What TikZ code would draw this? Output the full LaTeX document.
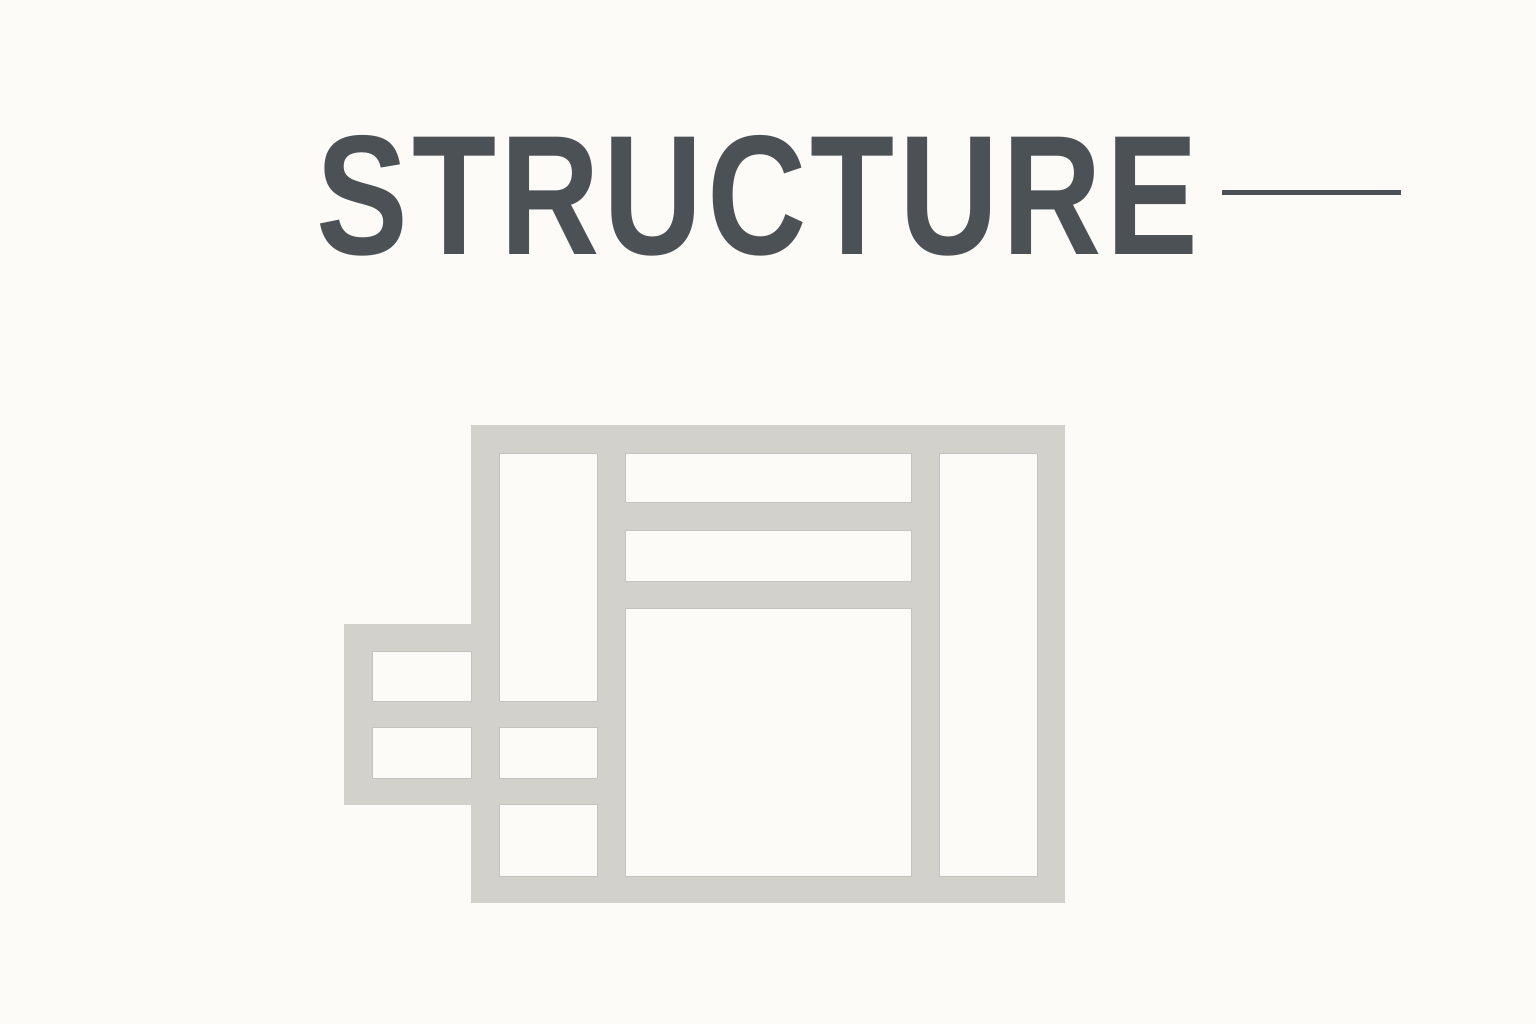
\documentclass[tikz,border=0pt]{standalone}
\usepackage{fontspec}
\newfontfamily\titlefont[LetterSpace=3]{Liberation Sans Bold}
\usepackage{graphicx}
\definecolor{bgc}{HTML}{FCFBF8}
\definecolor{framec}{HTML}{D2D1CC}
\definecolor{inkc}{HTML}{4C5155}
\tikzset{
  hole/.style={fill=bgc, draw=framec!93!black, line width=0.3pt},
  titletext/.style={inner sep=0pt, anchor=base west, text=inkc},
}
\begin{document}
\begin{tikzpicture}[x=1pt,y=-1pt]
\fill[bgc] (0,0) rectangle (1536,1024);
\useasboundingbox (0,0) rectangle (1536,1024);
% title
\node[titletext] (title) at (316,255) {\resizebox{882pt}{119pt}{\titlefont STRUCTURE}};
\coordinate (ruleA) at (1222,192.5);
\coordinate (ruleB) at (1401,192.5);
\draw[inkc, line width=5pt] (ruleA) -- (ruleB);
% structure frame
\fill[framec] (471,425) rectangle (1065,903);
\fill[framec] (344,624) rectangle (471,804.5);
% cells
\fill[hole] (499,453) rectangle (597,701);
\fill[hole] (625,453) rectangle (911,502.5);
\fill[hole] (625,530) rectangle (911,581);
\fill[hole] (625,608) rectangle (911,876);
\fill[hole] (939,453) rectangle (1037,876);
\fill[hole] (372,651) rectangle (471,701);
\fill[hole] (372,727.5) rectangle (471,778);
\fill[hole] (499,727.5) rectangle (597,778);
\fill[hole] (499,804.5) rectangle (597,876);
\end{tikzpicture}
\end{document}
